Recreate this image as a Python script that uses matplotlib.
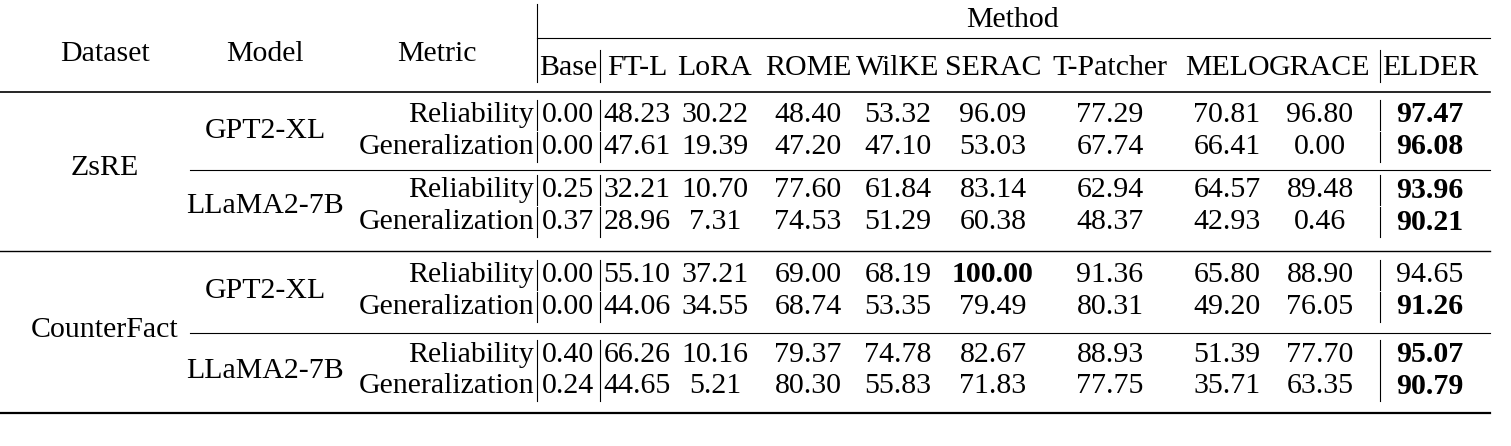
import matplotlib
matplotlib.use("Agg")
import matplotlib.pyplot as plt

methods = ["Base", "FT-L", "LoRA", "ROME", "WilKE", "SERAC", "T-Patcher", "MELO", "GRACE", "ELDER"]
datasets = ["ZsRE", "CounterFact"]
models = ["GPT2-XL", "LLaMA2-7B"]
metrics = ["Reliability", "Generalization"]
values = [
    ["0.00", "48.23", "30.22", "48.40", "53.32", "96.09", "77.29", "70.81", "96.80", "97.47"],
    ["0.00", "47.61", "19.39", "47.20", "47.10", "53.03", "67.74", "66.41", "0.00", "96.08"],
    ["0.25", "32.21", "10.70", "77.60", "61.84", "83.14", "62.94", "64.57", "89.48", "93.96"],
    ["0.37", "28.96", "7.31", "74.53", "51.29", "60.38", "48.37", "42.93", "0.46", "90.21"],
    ["0.00", "55.10", "37.21", "69.00", "68.19", "100.00", "91.36", "65.80", "88.90", "94.65"],
    ["0.00", "44.06", "34.55", "68.74", "53.35", "79.49", "80.31", "49.20", "76.05", "91.26"],
    ["0.40", "66.26", "10.16", "79.37", "74.78", "82.67", "88.93", "51.39", "77.70", "95.07"],
    ["0.24", "44.65", "5.21", "80.30", "55.83", "71.83", "77.75", "35.71", "63.35", "90.79"],
]
bold = [(i, 9) for i in range(8) if i != 4] + [(4, 5)]

W, H = 1511, 446
fig = plt.figure(figsize=(W / 100, H / 100), dpi=100)
ax = fig.add_axes([0, 0, 1, 1])
ax.set_xlim(0, W); ax.set_ylim(H, 0); ax.axis("off")
fs = 21.5
kw = dict(family="Liberation Serif", fontsize=fs, va="center")

col_x = [568, 637, 715, 808, 898, 993, 1110, 1227, 1320, 1430]
row_y = [115, 147, 190, 222, 275, 307, 355, 386]

ax.text(1012, 20, "Method", ha="center", **kw)
ax.text(105, 54, "Dataset", ha="center", **kw)
ax.text(265, 54, "Model", ha="center", **kw)
ax.text(437, 54, "Metric", ha="center", **kw)
for x, m in zip(col_x, methods):
    ax.text(x, 68, m, ha="center", **kw)

ax.text(105, 168, datasets[0], ha="center", **kw)
ax.text(105, 330, datasets[1], ha="center", **kw)
for k, y in enumerate([131, 206, 291, 371]):
    ax.text(265, y, models[k % 2], ha="center", **kw)
for i, y in enumerate(row_y):
    ax.text(534, y, metrics[i % 2], ha="right", **kw)
    for j, x in enumerate(col_x):
        ax.text(x, y, values[i][j], ha="center",
                fontweight="bold" if (i, j) in bold else "normal", **kw)

lc = "black"
ax.plot([0, 1490], [92, 92], color=lc, lw=1.2)
ax.plot([0, 1490], [251, 251], color=lc, lw=1.0)
ax.plot([0, 1490], [413, 413], color=lc, lw=1.6)
ax.plot([190, 1490], [170, 170], color=lc, lw=0.8)
ax.plot([190, 1490], [333, 333], color=lc, lw=0.8)
ax.plot([537, 1490], [38, 38], color=lc, lw=0.8)
ax.plot([537, 537], [4, 82], color=lc, lw=0.8)
for x in [600, 1380]:
    ax.plot([x, x], [50, 82], color=lc, lw=0.8)
for y in row_y:
    for x in [537, 600, 1380]:
        ax.plot([x, x], [y - 15, y + 15], color=lc, lw=0.8)

fig.savefig("out.png", dpi=100)
